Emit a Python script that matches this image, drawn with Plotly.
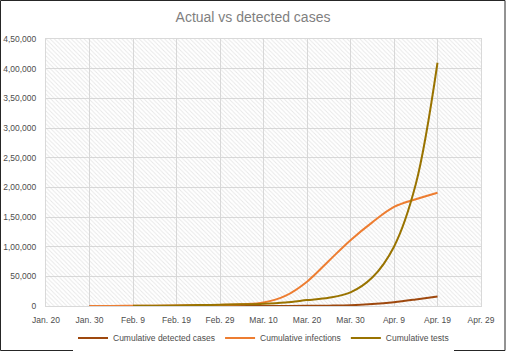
import plotly.graph_objects as go

# ---- data ----
dates = ["2020-01-30", "2020-02-04", "2020-02-09", "2020-02-14", "2020-02-19", "2020-02-24",
         "2020-02-29", "2020-03-05", "2020-03-10", "2020-03-15", "2020-03-20", "2020-03-25",
         "2020-03-30", "2020-04-04", "2020-04-09", "2020-04-14", "2020-04-19"]
detected = [1, 3, 3, 3, 3, 3, 3, 30, 60, 110, 250, 600, 1300, 3300, 6500, 11000, 16000]
infections = [0, 100, 300, 500, 800, 1200, 1800, 3000, 6000, 17000, 41000, 76000,
              111000, 141000, 167000, 180000, 191000]
test_dates = dates[2:]
tests = [300, 600, 1000, 1500, 2200, 2800, 3800, 6000, 10000, 14000, 23000, 48000,
         100000, 205000, 410000]

x_tick_vals = ["2020-01-20", "2020-01-30", "2020-02-09", "2020-02-19", "2020-02-29", "2020-03-10",
               "2020-03-20", "2020-03-30", "2020-04-09", "2020-04-19", "2020-04-29"]
x_tick_text = ["Jan. 20", "Jan. 30", "Feb. 9", "Feb. 19", "Feb. 29", "Mar. 10",
               "Mar. 20", "Mar. 30", "Apr. 9", "Apr. 19", "Apr. 29"]
y_tick_vals = [0, 50000, 100000, 150000, 200000, 250000, 300000, 350000, 400000, 450000]
y_tick_text = ["0", "50,000", "1,00,000", "1,50,000", "2,00,000", "2,50,000",
               "3,00,000", "3,50,000", "4,00,000", "4,50,000"]

x_min, x_max = x_tick_vals[0], x_tick_vals[-1]
y_max = y_tick_vals[-1]

fig = go.Figure()

# hatched plot-area background
fig.add_trace(go.Scatter(
    x=[x_min, x_max, x_max, x_min, x_min], y=[0, 0, y_max, y_max, 0],
    mode="none", fill="toself", fillcolor="rgba(0,0,0,0)",
    fillpattern=dict(shape="\\", fgcolor="#CFCFCF", bgcolor="rgba(0,0,0,0)",
                     size=3, solidity=0.3),
    showlegend=False, hoverinfo="skip"))

fig.add_trace(go.Scatter(x=dates, y=detected, name="Cumulative detected cases",
                         mode="lines", line=dict(color="#9E480E", width=2, shape="spline")))
fig.add_trace(go.Scatter(x=dates, y=infections, name="Cumulative infections",
                         mode="lines", line=dict(color="#ED7D31", width=2, shape="spline")))
fig.add_trace(go.Scatter(x=test_dates, y=tests, name="Cumulative tests",
                         mode="lines", line=dict(color="#997300", width=2, shape="spline")))

font_fam = "Liberation Sans, Arial, sans-serif"
L, R, T, B = 46, 25, 39, 47
W, H = 506, 353
pw, ph = W - L - R, H - T - B

fig.update_layout(
    width=W, height=H,
    margin=dict(l=L, r=R, t=T, b=B, autoexpand=False),
    paper_bgcolor="white", plot_bgcolor="white",
    title=dict(text="Actual vs detected cases", x=0.5, xanchor="center",
               y=1 - 17 / H, yanchor="middle",
               font=dict(family=font_fam, size=14, color="#7F7F7F")),
    font=dict(family=font_fam, size=8.5, color="#4D4D4D"),
    xaxis=dict(type="date", range=[x_min, x_max], tickvals=x_tick_vals, ticktext=x_tick_text,
               showgrid=True, gridcolor="#D9D9D9", gridwidth=1, ticklabelstandoff=6,
               showline=True, linecolor="#D9D9D9", mirror=True, ticks="", zeroline=False,
               automargin=False),
    yaxis=dict(range=[0, y_max], tickvals=y_tick_vals, ticktext=y_tick_text,
               showgrid=True, gridcolor="#D9D9D9", gridwidth=1, ticklabelstandoff=7,
               showline=True, linecolor="#D9D9D9", mirror=True, ticks="", zeroline=False,
               automargin=False),
    legend=dict(orientation="h", x=0.5, xanchor="center", y=-(338 - 306) / ph, yanchor="middle",
                font=dict(size=8.5, color="#4D4D4D"), itemwidth=30),
    showlegend=True,
)

# outer chart border
fig.add_shape(type="rect", xref="paper", yref="paper",
              x0=(0.5 - L) / pw, x1=(505 - L) / pw,
              y0=-(350.5 - T - ph) / ph, y1=(T - 0.5) / ph + 1,
              line=dict(color="#262626", width=1), fillcolor="rgba(0,0,0,0)")

fig.write_html("out.html")
